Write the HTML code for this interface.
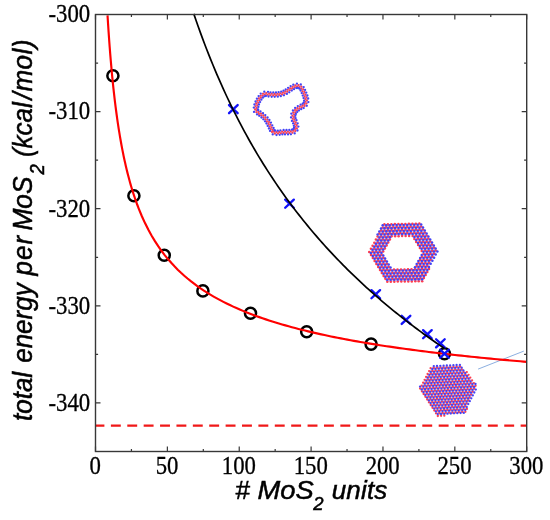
<!DOCTYPE html>
<html><head><meta charset="utf-8"><title>total energy per MoS2</title>
<style>html,body{margin:0;padding:0;background:#fff}svg{display:block}</style></head><body>
<svg width="550" height="520" viewBox="0 0 550 520">
<rect width="550" height="520" fill="#fff"/>
<polygon fill="#d6c3e6" points="419.8,389.2 432.3,366.6 460.5,365.2 476.1,386.4 464.1,412.5 437.9,415.4"/>
<g fill="#ff3d4e"><circle cx="430.6" cy="368.2" r="1.15"/><circle cx="433.8" cy="368.0" r="1.15"/><circle cx="437.1" cy="367.8" r="1.15"/><circle cx="440.4" cy="367.7" r="1.15"/><circle cx="443.6" cy="367.5" r="1.15"/><circle cx="446.9" cy="367.4" r="1.15"/><circle cx="450.2" cy="367.2" r="1.15"/><circle cx="453.4" cy="367.1" r="1.15"/><circle cx="456.7" cy="366.9" r="1.15"/><circle cx="460.0" cy="366.7" r="1.15"/><circle cx="429.1" cy="371.1" r="1.15"/><circle cx="432.4" cy="370.9" r="1.15"/><circle cx="435.6" cy="370.7" r="1.15"/><circle cx="438.9" cy="370.6" r="1.15"/><circle cx="442.1" cy="370.4" r="1.15"/><circle cx="445.4" cy="370.3" r="1.15"/><circle cx="448.7" cy="370.1" r="1.15"/><circle cx="451.9" cy="370.0" r="1.15"/><circle cx="455.2" cy="369.8" r="1.15"/><circle cx="458.5" cy="369.7" r="1.15"/><circle cx="461.7" cy="369.5" r="1.15"/><circle cx="427.6" cy="374.0" r="1.15"/><circle cx="430.9" cy="373.8" r="1.15"/><circle cx="434.1" cy="373.7" r="1.15"/><circle cx="437.4" cy="373.5" r="1.15"/><circle cx="440.7" cy="373.3" r="1.15"/><circle cx="443.9" cy="373.2" r="1.15"/><circle cx="447.2" cy="373.0" r="1.15"/><circle cx="450.5" cy="372.9" r="1.15"/><circle cx="453.7" cy="372.7" r="1.15"/><circle cx="457.0" cy="372.6" r="1.15"/><circle cx="460.2" cy="372.4" r="1.15"/><circle cx="463.5" cy="372.2" r="1.15"/><circle cx="466.8" cy="372.1" r="1.15"/><circle cx="426.1" cy="376.9" r="1.15"/><circle cx="429.4" cy="376.7" r="1.15"/><circle cx="432.6" cy="376.6" r="1.15"/><circle cx="435.9" cy="376.4" r="1.15"/><circle cx="439.2" cy="376.2" r="1.15"/><circle cx="442.4" cy="376.1" r="1.15"/><circle cx="445.7" cy="375.9" r="1.15"/><circle cx="449.0" cy="375.8" r="1.15"/><circle cx="452.2" cy="375.6" r="1.15"/><circle cx="455.5" cy="375.5" r="1.15"/><circle cx="458.8" cy="375.3" r="1.15"/><circle cx="462.0" cy="375.2" r="1.15"/><circle cx="465.3" cy="375.0" r="1.15"/><circle cx="468.6" cy="374.8" r="1.15"/><circle cx="424.6" cy="379.8" r="1.15"/><circle cx="427.9" cy="379.6" r="1.15"/><circle cx="431.1" cy="379.5" r="1.15"/><circle cx="434.4" cy="379.3" r="1.15"/><circle cx="437.7" cy="379.2" r="1.15"/><circle cx="440.9" cy="379.0" r="1.15"/><circle cx="444.2" cy="378.8" r="1.15"/><circle cx="447.5" cy="378.7" r="1.15"/><circle cx="450.7" cy="378.5" r="1.15"/><circle cx="454.0" cy="378.4" r="1.15"/><circle cx="457.3" cy="378.2" r="1.15"/><circle cx="460.5" cy="378.1" r="1.15"/><circle cx="463.8" cy="377.9" r="1.15"/><circle cx="467.1" cy="377.7" r="1.15"/><circle cx="470.3" cy="377.6" r="1.15"/><circle cx="423.1" cy="382.7" r="1.15"/><circle cx="426.4" cy="382.5" r="1.15"/><circle cx="429.6" cy="382.4" r="1.15"/><circle cx="432.9" cy="382.2" r="1.15"/><circle cx="436.2" cy="382.1" r="1.15"/><circle cx="439.4" cy="381.9" r="1.15"/><circle cx="442.7" cy="381.7" r="1.15"/><circle cx="446.0" cy="381.6" r="1.15"/><circle cx="449.2" cy="381.4" r="1.15"/><circle cx="452.5" cy="381.3" r="1.15"/><circle cx="455.8" cy="381.1" r="1.15"/><circle cx="459.0" cy="381.0" r="1.15"/><circle cx="462.3" cy="380.8" r="1.15"/><circle cx="465.6" cy="380.7" r="1.15"/><circle cx="468.8" cy="380.5" r="1.15"/><circle cx="472.1" cy="380.3" r="1.15"/><circle cx="421.6" cy="385.6" r="1.15"/><circle cx="424.9" cy="385.4" r="1.15"/><circle cx="428.1" cy="385.3" r="1.15"/><circle cx="431.4" cy="385.1" r="1.15"/><circle cx="434.7" cy="385.0" r="1.15"/><circle cx="437.9" cy="384.8" r="1.15"/><circle cx="441.2" cy="384.7" r="1.15"/><circle cx="444.5" cy="384.5" r="1.15"/><circle cx="447.7" cy="384.3" r="1.15"/><circle cx="451.0" cy="384.2" r="1.15"/><circle cx="454.3" cy="384.0" r="1.15"/><circle cx="457.5" cy="383.9" r="1.15"/><circle cx="460.8" cy="383.7" r="1.15"/><circle cx="464.1" cy="383.6" r="1.15"/><circle cx="467.3" cy="383.4" r="1.15"/><circle cx="470.6" cy="383.2" r="1.15"/><circle cx="473.9" cy="383.1" r="1.15"/><circle cx="420.1" cy="388.5" r="1.15"/><circle cx="423.4" cy="388.3" r="1.15"/><circle cx="426.6" cy="388.2" r="1.15"/><circle cx="429.9" cy="388.0" r="1.15"/><circle cx="433.2" cy="387.9" r="1.15"/><circle cx="436.4" cy="387.7" r="1.15"/><circle cx="439.7" cy="387.6" r="1.15"/><circle cx="443.0" cy="387.4" r="1.15"/><circle cx="446.2" cy="387.2" r="1.15"/><circle cx="449.5" cy="387.1" r="1.15"/><circle cx="452.8" cy="386.9" r="1.15"/><circle cx="456.0" cy="386.8" r="1.15"/><circle cx="459.3" cy="386.6" r="1.15"/><circle cx="462.6" cy="386.5" r="1.15"/><circle cx="465.8" cy="386.3" r="1.15"/><circle cx="469.1" cy="386.2" r="1.15"/><circle cx="472.4" cy="386.0" r="1.15"/><circle cx="475.6" cy="385.8" r="1.15"/><circle cx="421.9" cy="391.3" r="1.15"/><circle cx="425.1" cy="391.1" r="1.15"/><circle cx="428.4" cy="390.9" r="1.15"/><circle cx="431.7" cy="390.8" r="1.15"/><circle cx="434.9" cy="390.6" r="1.15"/><circle cx="438.2" cy="390.5" r="1.15"/><circle cx="441.5" cy="390.3" r="1.15"/><circle cx="444.7" cy="390.2" r="1.15"/><circle cx="448.0" cy="390.0" r="1.15"/><circle cx="451.3" cy="389.8" r="1.15"/><circle cx="454.5" cy="389.7" r="1.15"/><circle cx="457.8" cy="389.5" r="1.15"/><circle cx="461.1" cy="389.4" r="1.15"/><circle cx="464.3" cy="389.2" r="1.15"/><circle cx="467.6" cy="389.1" r="1.15"/><circle cx="470.9" cy="388.9" r="1.15"/><circle cx="474.1" cy="388.7" r="1.15"/><circle cx="423.6" cy="394.0" r="1.15"/><circle cx="426.9" cy="393.8" r="1.15"/><circle cx="430.2" cy="393.7" r="1.15"/><circle cx="433.4" cy="393.5" r="1.15"/><circle cx="436.7" cy="393.4" r="1.15"/><circle cx="440.0" cy="393.2" r="1.15"/><circle cx="443.2" cy="393.1" r="1.15"/><circle cx="446.5" cy="392.9" r="1.15"/><circle cx="449.8" cy="392.8" r="1.15"/><circle cx="453.0" cy="392.6" r="1.15"/><circle cx="456.3" cy="392.4" r="1.15"/><circle cx="459.6" cy="392.3" r="1.15"/><circle cx="462.8" cy="392.1" r="1.15"/><circle cx="466.1" cy="392.0" r="1.15"/><circle cx="469.4" cy="391.8" r="1.15"/><circle cx="472.6" cy="391.7" r="1.15"/><circle cx="425.4" cy="396.8" r="1.15"/><circle cx="428.7" cy="396.6" r="1.15"/><circle cx="431.9" cy="396.4" r="1.15"/><circle cx="435.2" cy="396.3" r="1.15"/><circle cx="438.5" cy="396.1" r="1.15"/><circle cx="441.7" cy="396.0" r="1.15"/><circle cx="445.0" cy="395.8" r="1.15"/><circle cx="448.3" cy="395.7" r="1.15"/><circle cx="451.5" cy="395.5" r="1.15"/><circle cx="454.8" cy="395.3" r="1.15"/><circle cx="458.1" cy="395.2" r="1.15"/><circle cx="461.3" cy="395.0" r="1.15"/><circle cx="464.6" cy="394.9" r="1.15"/><circle cx="467.9" cy="394.7" r="1.15"/><circle cx="471.1" cy="394.6" r="1.15"/><circle cx="427.2" cy="399.5" r="1.15"/><circle cx="430.4" cy="399.3" r="1.15"/><circle cx="433.7" cy="399.2" r="1.15"/><circle cx="437.0" cy="399.0" r="1.15"/><circle cx="440.2" cy="398.9" r="1.15"/><circle cx="443.5" cy="398.7" r="1.15"/><circle cx="446.8" cy="398.6" r="1.15"/><circle cx="450.0" cy="398.4" r="1.15"/><circle cx="453.3" cy="398.3" r="1.15"/><circle cx="456.6" cy="398.1" r="1.15"/><circle cx="459.8" cy="397.9" r="1.15"/><circle cx="463.1" cy="397.8" r="1.15"/><circle cx="466.4" cy="397.6" r="1.15"/><circle cx="469.6" cy="397.5" r="1.15"/><circle cx="428.9" cy="402.3" r="1.15"/><circle cx="432.2" cy="402.1" r="1.15"/><circle cx="435.5" cy="401.9" r="1.15"/><circle cx="438.7" cy="401.8" r="1.15"/><circle cx="442.0" cy="401.6" r="1.15"/><circle cx="445.3" cy="401.5" r="1.15"/><circle cx="448.5" cy="401.3" r="1.15"/><circle cx="451.8" cy="401.2" r="1.15"/><circle cx="455.1" cy="401.0" r="1.15"/><circle cx="458.3" cy="400.8" r="1.15"/><circle cx="461.6" cy="400.7" r="1.15"/><circle cx="464.9" cy="400.5" r="1.15"/><circle cx="468.1" cy="400.4" r="1.15"/><circle cx="430.7" cy="405.0" r="1.15"/><circle cx="434.0" cy="404.8" r="1.15"/><circle cx="437.2" cy="404.7" r="1.15"/><circle cx="440.5" cy="404.5" r="1.15"/><circle cx="443.8" cy="404.4" r="1.15"/><circle cx="447.0" cy="404.2" r="1.15"/><circle cx="450.3" cy="404.1" r="1.15"/><circle cx="453.6" cy="403.9" r="1.15"/><circle cx="456.8" cy="403.8" r="1.15"/><circle cx="460.1" cy="403.6" r="1.15"/><circle cx="463.4" cy="403.4" r="1.15"/><circle cx="466.6" cy="403.3" r="1.15"/><circle cx="432.5" cy="407.8" r="1.15"/><circle cx="435.8" cy="407.6" r="1.15"/><circle cx="439.0" cy="407.4" r="1.15"/><circle cx="442.3" cy="407.3" r="1.15"/><circle cx="445.5" cy="407.1" r="1.15"/><circle cx="448.8" cy="407.0" r="1.15"/><circle cx="452.1" cy="406.8" r="1.15"/><circle cx="455.3" cy="406.7" r="1.15"/><circle cx="458.6" cy="406.5" r="1.15"/><circle cx="461.9" cy="406.3" r="1.15"/><circle cx="465.1" cy="406.2" r="1.15"/><circle cx="434.3" cy="410.5" r="1.15"/><circle cx="437.5" cy="410.3" r="1.15"/><circle cx="440.8" cy="410.2" r="1.15"/><circle cx="444.1" cy="410.0" r="1.15"/><circle cx="447.3" cy="409.9" r="1.15"/><circle cx="450.6" cy="409.7" r="1.15"/><circle cx="453.9" cy="409.6" r="1.15"/><circle cx="457.1" cy="409.4" r="1.15"/><circle cx="460.4" cy="409.3" r="1.15"/><circle cx="463.6" cy="409.1" r="1.15"/><circle cx="466.9" cy="408.9" r="1.15"/><circle cx="436.0" cy="413.3" r="1.15"/><circle cx="439.3" cy="413.1" r="1.15"/><circle cx="442.6" cy="412.9" r="1.15"/><circle cx="445.8" cy="412.8" r="1.15"/><circle cx="449.1" cy="412.6" r="1.15"/><circle cx="452.4" cy="412.5" r="1.15"/><circle cx="455.6" cy="412.3" r="1.15"/><circle cx="458.9" cy="412.2" r="1.15"/><circle cx="462.2" cy="412.0" r="1.15"/><circle cx="465.4" cy="411.8" r="1.15"/><circle cx="437.8" cy="416.0" r="1.15"/><circle cx="441.1" cy="415.8" r="1.15"/><circle cx="444.3" cy="415.7" r="1.15"/></g><g fill="#4242f6"><circle cx="433.8" cy="366.1" r="1.15"/><circle cx="437.0" cy="366.0" r="1.15"/><circle cx="440.3" cy="365.8" r="1.15"/><circle cx="443.6" cy="365.6" r="1.15"/><circle cx="446.8" cy="365.5" r="1.15"/><circle cx="450.1" cy="365.3" r="1.15"/><circle cx="453.4" cy="365.2" r="1.15"/><circle cx="456.6" cy="365.0" r="1.15"/><circle cx="459.9" cy="364.9" r="1.15"/><circle cx="432.3" cy="369.0" r="1.15"/><circle cx="435.5" cy="368.9" r="1.15"/><circle cx="438.8" cy="368.7" r="1.15"/><circle cx="442.1" cy="368.5" r="1.15"/><circle cx="445.3" cy="368.4" r="1.15"/><circle cx="448.6" cy="368.2" r="1.15"/><circle cx="451.9" cy="368.1" r="1.15"/><circle cx="455.1" cy="367.9" r="1.15"/><circle cx="458.4" cy="367.8" r="1.15"/><circle cx="461.7" cy="367.6" r="1.15"/><circle cx="430.8" cy="371.9" r="1.15"/><circle cx="434.0" cy="371.8" r="1.15"/><circle cx="437.3" cy="371.6" r="1.15"/><circle cx="440.6" cy="371.5" r="1.15"/><circle cx="443.8" cy="371.3" r="1.15"/><circle cx="447.1" cy="371.1" r="1.15"/><circle cx="450.4" cy="371.0" r="1.15"/><circle cx="453.6" cy="370.8" r="1.15"/><circle cx="456.9" cy="370.7" r="1.15"/><circle cx="460.2" cy="370.5" r="1.15"/><circle cx="463.4" cy="370.4" r="1.15"/><circle cx="429.3" cy="374.8" r="1.15"/><circle cx="432.5" cy="374.7" r="1.15"/><circle cx="435.8" cy="374.5" r="1.15"/><circle cx="439.1" cy="374.4" r="1.15"/><circle cx="442.3" cy="374.2" r="1.15"/><circle cx="445.6" cy="374.0" r="1.15"/><circle cx="448.9" cy="373.9" r="1.15"/><circle cx="452.1" cy="373.7" r="1.15"/><circle cx="455.4" cy="373.6" r="1.15"/><circle cx="458.7" cy="373.4" r="1.15"/><circle cx="461.9" cy="373.3" r="1.15"/><circle cx="465.2" cy="373.1" r="1.15"/><circle cx="427.8" cy="377.7" r="1.15"/><circle cx="431.0" cy="377.6" r="1.15"/><circle cx="434.3" cy="377.4" r="1.15"/><circle cx="437.6" cy="377.3" r="1.15"/><circle cx="440.8" cy="377.1" r="1.15"/><circle cx="444.1" cy="377.0" r="1.15"/><circle cx="447.4" cy="376.8" r="1.15"/><circle cx="450.6" cy="376.6" r="1.15"/><circle cx="453.9" cy="376.5" r="1.15"/><circle cx="457.2" cy="376.3" r="1.15"/><circle cx="460.4" cy="376.2" r="1.15"/><circle cx="463.7" cy="376.0" r="1.15"/><circle cx="467.0" cy="375.9" r="1.15"/><circle cx="426.3" cy="380.6" r="1.15"/><circle cx="429.5" cy="380.5" r="1.15"/><circle cx="432.8" cy="380.3" r="1.15"/><circle cx="436.1" cy="380.2" r="1.15"/><circle cx="439.3" cy="380.0" r="1.15"/><circle cx="442.6" cy="379.9" r="1.15"/><circle cx="445.9" cy="379.7" r="1.15"/><circle cx="449.1" cy="379.5" r="1.15"/><circle cx="452.4" cy="379.4" r="1.15"/><circle cx="455.7" cy="379.2" r="1.15"/><circle cx="458.9" cy="379.1" r="1.15"/><circle cx="462.2" cy="378.9" r="1.15"/><circle cx="465.5" cy="378.8" r="1.15"/><circle cx="468.7" cy="378.6" r="1.15"/><circle cx="424.8" cy="383.6" r="1.15"/><circle cx="428.0" cy="383.4" r="1.15"/><circle cx="431.3" cy="383.2" r="1.15"/><circle cx="434.6" cy="383.1" r="1.15"/><circle cx="437.8" cy="382.9" r="1.15"/><circle cx="441.1" cy="382.8" r="1.15"/><circle cx="444.4" cy="382.6" r="1.15"/><circle cx="447.6" cy="382.5" r="1.15"/><circle cx="450.9" cy="382.3" r="1.15"/><circle cx="454.2" cy="382.1" r="1.15"/><circle cx="457.4" cy="382.0" r="1.15"/><circle cx="460.7" cy="381.8" r="1.15"/><circle cx="464.0" cy="381.7" r="1.15"/><circle cx="467.2" cy="381.5" r="1.15"/><circle cx="470.5" cy="381.4" r="1.15"/><circle cx="420.0" cy="386.6" r="1.15"/><circle cx="423.3" cy="386.5" r="1.15"/><circle cx="426.5" cy="386.3" r="1.15"/><circle cx="429.8" cy="386.1" r="1.15"/><circle cx="433.1" cy="386.0" r="1.15"/><circle cx="436.3" cy="385.8" r="1.15"/><circle cx="439.6" cy="385.7" r="1.15"/><circle cx="442.9" cy="385.5" r="1.15"/><circle cx="446.1" cy="385.4" r="1.15"/><circle cx="449.4" cy="385.2" r="1.15"/><circle cx="452.7" cy="385.1" r="1.15"/><circle cx="455.9" cy="384.9" r="1.15"/><circle cx="459.2" cy="384.7" r="1.15"/><circle cx="462.5" cy="384.6" r="1.15"/><circle cx="465.7" cy="384.4" r="1.15"/><circle cx="469.0" cy="384.3" r="1.15"/><circle cx="472.3" cy="384.1" r="1.15"/><circle cx="475.5" cy="384.0" r="1.15"/><circle cx="421.8" cy="389.4" r="1.15"/><circle cx="425.0" cy="389.2" r="1.15"/><circle cx="428.3" cy="389.1" r="1.15"/><circle cx="431.6" cy="388.9" r="1.15"/><circle cx="434.8" cy="388.7" r="1.15"/><circle cx="438.1" cy="388.6" r="1.15"/><circle cx="441.4" cy="388.4" r="1.15"/><circle cx="444.6" cy="388.3" r="1.15"/><circle cx="447.9" cy="388.1" r="1.15"/><circle cx="451.2" cy="388.0" r="1.15"/><circle cx="454.4" cy="387.8" r="1.15"/><circle cx="457.7" cy="387.6" r="1.15"/><circle cx="461.0" cy="387.5" r="1.15"/><circle cx="464.2" cy="387.3" r="1.15"/><circle cx="467.5" cy="387.2" r="1.15"/><circle cx="470.8" cy="387.0" r="1.15"/><circle cx="474.0" cy="386.9" r="1.15"/><circle cx="423.5" cy="392.1" r="1.15"/><circle cx="426.8" cy="392.0" r="1.15"/><circle cx="430.1" cy="391.8" r="1.15"/><circle cx="433.3" cy="391.6" r="1.15"/><circle cx="436.6" cy="391.5" r="1.15"/><circle cx="439.9" cy="391.3" r="1.15"/><circle cx="443.1" cy="391.2" r="1.15"/><circle cx="446.4" cy="391.0" r="1.15"/><circle cx="449.7" cy="390.9" r="1.15"/><circle cx="452.9" cy="390.7" r="1.15"/><circle cx="456.2" cy="390.6" r="1.15"/><circle cx="459.5" cy="390.4" r="1.15"/><circle cx="462.7" cy="390.2" r="1.15"/><circle cx="466.0" cy="390.1" r="1.15"/><circle cx="469.3" cy="389.9" r="1.15"/><circle cx="472.5" cy="389.8" r="1.15"/><circle cx="475.8" cy="389.6" r="1.15"/><circle cx="425.3" cy="394.9" r="1.15"/><circle cx="428.6" cy="394.7" r="1.15"/><circle cx="431.8" cy="394.6" r="1.15"/><circle cx="435.1" cy="394.4" r="1.15"/><circle cx="438.4" cy="394.2" r="1.15"/><circle cx="441.6" cy="394.1" r="1.15"/><circle cx="444.9" cy="393.9" r="1.15"/><circle cx="448.2" cy="393.8" r="1.15"/><circle cx="451.4" cy="393.6" r="1.15"/><circle cx="454.7" cy="393.5" r="1.15"/><circle cx="458.0" cy="393.3" r="1.15"/><circle cx="461.2" cy="393.1" r="1.15"/><circle cx="464.5" cy="393.0" r="1.15"/><circle cx="467.8" cy="392.8" r="1.15"/><circle cx="471.0" cy="392.7" r="1.15"/><circle cx="474.3" cy="392.5" r="1.15"/><circle cx="427.1" cy="397.6" r="1.15"/><circle cx="430.4" cy="397.5" r="1.15"/><circle cx="433.6" cy="397.3" r="1.15"/><circle cx="436.9" cy="397.1" r="1.15"/><circle cx="440.2" cy="397.0" r="1.15"/><circle cx="443.4" cy="396.8" r="1.15"/><circle cx="446.7" cy="396.7" r="1.15"/><circle cx="450.0" cy="396.5" r="1.15"/><circle cx="453.2" cy="396.4" r="1.15"/><circle cx="456.5" cy="396.2" r="1.15"/><circle cx="459.7" cy="396.1" r="1.15"/><circle cx="463.0" cy="395.9" r="1.15"/><circle cx="466.3" cy="395.7" r="1.15"/><circle cx="469.5" cy="395.6" r="1.15"/><circle cx="472.8" cy="395.4" r="1.15"/><circle cx="428.9" cy="400.4" r="1.15"/><circle cx="432.1" cy="400.2" r="1.15"/><circle cx="435.4" cy="400.1" r="1.15"/><circle cx="438.7" cy="399.9" r="1.15"/><circle cx="441.9" cy="399.7" r="1.15"/><circle cx="445.2" cy="399.6" r="1.15"/><circle cx="448.5" cy="399.4" r="1.15"/><circle cx="451.7" cy="399.3" r="1.15"/><circle cx="455.0" cy="399.1" r="1.15"/><circle cx="458.3" cy="399.0" r="1.15"/><circle cx="461.5" cy="398.8" r="1.15"/><circle cx="464.8" cy="398.6" r="1.15"/><circle cx="468.1" cy="398.5" r="1.15"/><circle cx="471.3" cy="398.3" r="1.15"/><circle cx="430.6" cy="403.1" r="1.15"/><circle cx="433.9" cy="403.0" r="1.15"/><circle cx="437.2" cy="402.8" r="1.15"/><circle cx="440.4" cy="402.6" r="1.15"/><circle cx="443.7" cy="402.5" r="1.15"/><circle cx="447.0" cy="402.3" r="1.15"/><circle cx="450.2" cy="402.2" r="1.15"/><circle cx="453.5" cy="402.0" r="1.15"/><circle cx="456.8" cy="401.9" r="1.15"/><circle cx="460.0" cy="401.7" r="1.15"/><circle cx="463.3" cy="401.6" r="1.15"/><circle cx="466.6" cy="401.4" r="1.15"/><circle cx="469.8" cy="401.2" r="1.15"/><circle cx="432.4" cy="405.9" r="1.15"/><circle cx="435.7" cy="405.7" r="1.15"/><circle cx="438.9" cy="405.6" r="1.15"/><circle cx="442.2" cy="405.4" r="1.15"/><circle cx="445.5" cy="405.2" r="1.15"/><circle cx="448.7" cy="405.1" r="1.15"/><circle cx="452.0" cy="404.9" r="1.15"/><circle cx="455.3" cy="404.8" r="1.15"/><circle cx="458.5" cy="404.6" r="1.15"/><circle cx="461.8" cy="404.5" r="1.15"/><circle cx="465.1" cy="404.3" r="1.15"/><circle cx="468.3" cy="404.1" r="1.15"/><circle cx="434.2" cy="408.6" r="1.15"/><circle cx="437.4" cy="408.5" r="1.15"/><circle cx="440.7" cy="408.3" r="1.15"/><circle cx="444.0" cy="408.2" r="1.15"/><circle cx="447.2" cy="408.0" r="1.15"/><circle cx="450.5" cy="407.8" r="1.15"/><circle cx="453.8" cy="407.7" r="1.15"/><circle cx="457.0" cy="407.5" r="1.15"/><circle cx="460.3" cy="407.4" r="1.15"/><circle cx="463.6" cy="407.2" r="1.15"/><circle cx="466.8" cy="407.1" r="1.15"/><circle cx="435.9" cy="411.4" r="1.15"/><circle cx="439.2" cy="411.2" r="1.15"/><circle cx="442.5" cy="411.1" r="1.15"/><circle cx="445.7" cy="410.9" r="1.15"/><circle cx="449.0" cy="410.7" r="1.15"/><circle cx="452.3" cy="410.6" r="1.15"/><circle cx="455.5" cy="410.4" r="1.15"/><circle cx="458.8" cy="410.3" r="1.15"/><circle cx="462.1" cy="410.1" r="1.15"/><circle cx="465.3" cy="410.0" r="1.15"/><circle cx="437.7" cy="414.1" r="1.15"/><circle cx="441.0" cy="414.0" r="1.15"/><circle cx="444.2" cy="413.8" r="1.15"/><circle cx="447.5" cy="413.7" r="1.15"/><circle cx="450.8" cy="413.5" r="1.15"/><circle cx="454.0" cy="413.3" r="1.15"/><circle cx="457.3" cy="413.2" r="1.15"/><circle cx="460.6" cy="413.0" r="1.15"/><circle cx="463.8" cy="412.9" r="1.15"/></g>
<path fill-rule="evenodd" fill="#d6c3e6" d="M369.60,253.09 L384.13,224.20 L419.21,223.52 L436.30,251.42 L422.06,280.70 L386.30,281.68 Z M382.60,253.12 L392.68,235.77 L413.51,235.07 L423.60,252.06 L414.26,270.11 L391.13,270.50 Z"/>
<g fill="#ff3d4e"><circle cx="384.4" cy="224.3" r="1.25"/><circle cx="387.9" cy="224.2" r="1.25"/><circle cx="391.4" cy="224.2" r="1.25"/><circle cx="394.9" cy="224.1" r="1.25"/><circle cx="398.4" cy="224.0" r="1.25"/><circle cx="401.9" cy="224.0" r="1.25"/><circle cx="405.4" cy="223.9" r="1.25"/><circle cx="408.9" cy="223.8" r="1.25"/><circle cx="412.4" cy="223.8" r="1.25"/><circle cx="415.9" cy="223.7" r="1.25"/><circle cx="419.4" cy="223.6" r="1.25"/><circle cx="382.7" cy="227.4" r="1.25"/><circle cx="386.2" cy="227.3" r="1.25"/><circle cx="389.7" cy="227.2" r="1.25"/><circle cx="393.2" cy="227.2" r="1.25"/><circle cx="396.7" cy="227.1" r="1.25"/><circle cx="400.2" cy="227.0" r="1.25"/><circle cx="403.7" cy="227.0" r="1.25"/><circle cx="407.2" cy="226.9" r="1.25"/><circle cx="410.7" cy="226.8" r="1.25"/><circle cx="414.2" cy="226.8" r="1.25"/><circle cx="417.7" cy="226.7" r="1.25"/><circle cx="421.2" cy="226.6" r="1.25"/><circle cx="381.0" cy="230.4" r="1.25"/><circle cx="384.5" cy="230.4" r="1.25"/><circle cx="388.0" cy="230.3" r="1.25"/><circle cx="391.5" cy="230.2" r="1.25"/><circle cx="395.0" cy="230.2" r="1.25"/><circle cx="398.5" cy="230.1" r="1.25"/><circle cx="402.0" cy="230.0" r="1.25"/><circle cx="405.5" cy="230.0" r="1.25"/><circle cx="409.0" cy="229.9" r="1.25"/><circle cx="412.5" cy="229.8" r="1.25"/><circle cx="416.0" cy="229.8" r="1.25"/><circle cx="419.5" cy="229.7" r="1.25"/><circle cx="423.0" cy="229.6" r="1.25"/><circle cx="379.3" cy="233.5" r="1.25"/><circle cx="382.8" cy="233.4" r="1.25"/><circle cx="386.3" cy="233.4" r="1.25"/><circle cx="389.8" cy="233.3" r="1.25"/><circle cx="393.3" cy="233.2" r="1.25"/><circle cx="396.8" cy="233.2" r="1.25"/><circle cx="400.3" cy="233.1" r="1.25"/><circle cx="403.8" cy="233.0" r="1.25"/><circle cx="407.3" cy="233.0" r="1.25"/><circle cx="410.8" cy="232.9" r="1.25"/><circle cx="414.3" cy="232.8" r="1.25"/><circle cx="417.8" cy="232.8" r="1.25"/><circle cx="421.3" cy="232.7" r="1.25"/><circle cx="424.8" cy="232.6" r="1.25"/><circle cx="377.6" cy="236.6" r="1.25"/><circle cx="381.1" cy="236.5" r="1.25"/><circle cx="384.6" cy="236.4" r="1.25"/><circle cx="388.1" cy="236.4" r="1.25"/><circle cx="391.6" cy="236.3" r="1.25"/><circle cx="395.1" cy="236.2" r="1.25"/><circle cx="398.6" cy="236.2" r="1.25"/><circle cx="402.1" cy="236.1" r="1.25"/><circle cx="405.6" cy="236.0" r="1.25"/><circle cx="409.1" cy="236.0" r="1.25"/><circle cx="412.6" cy="235.9" r="1.25"/><circle cx="416.1" cy="235.8" r="1.25"/><circle cx="419.6" cy="235.8" r="1.25"/><circle cx="423.1" cy="235.7" r="1.25"/><circle cx="426.6" cy="235.6" r="1.25"/><circle cx="375.9" cy="239.6" r="1.25"/><circle cx="379.4" cy="239.6" r="1.25"/><circle cx="382.9" cy="239.5" r="1.25"/><circle cx="386.4" cy="239.4" r="1.25"/><circle cx="389.9" cy="239.4" r="1.25"/><circle cx="414.4" cy="238.9" r="1.25"/><circle cx="417.9" cy="238.8" r="1.25"/><circle cx="421.4" cy="238.7" r="1.25"/><circle cx="424.9" cy="238.7" r="1.25"/><circle cx="428.4" cy="238.6" r="1.25"/><circle cx="374.3" cy="242.7" r="1.25"/><circle cx="377.8" cy="242.6" r="1.25"/><circle cx="381.2" cy="242.6" r="1.25"/><circle cx="384.7" cy="242.5" r="1.25"/><circle cx="388.2" cy="242.4" r="1.25"/><circle cx="416.2" cy="241.9" r="1.25"/><circle cx="419.7" cy="241.8" r="1.25"/><circle cx="423.2" cy="241.7" r="1.25"/><circle cx="426.7" cy="241.7" r="1.25"/><circle cx="430.2" cy="241.6" r="1.25"/><circle cx="372.6" cy="245.7" r="1.25"/><circle cx="376.1" cy="245.7" r="1.25"/><circle cx="379.6" cy="245.6" r="1.25"/><circle cx="383.1" cy="245.5" r="1.25"/><circle cx="386.6" cy="245.5" r="1.25"/><circle cx="418.1" cy="244.9" r="1.25"/><circle cx="421.6" cy="244.8" r="1.25"/><circle cx="425.0" cy="244.7" r="1.25"/><circle cx="428.5" cy="244.7" r="1.25"/><circle cx="432.0" cy="244.6" r="1.25"/><circle cx="370.9" cy="248.8" r="1.25"/><circle cx="374.4" cy="248.7" r="1.25"/><circle cx="377.9" cy="248.7" r="1.25"/><circle cx="381.4" cy="248.6" r="1.25"/><circle cx="384.9" cy="248.5" r="1.25"/><circle cx="419.9" cy="247.9" r="1.25"/><circle cx="423.4" cy="247.8" r="1.25"/><circle cx="426.9" cy="247.7" r="1.25"/><circle cx="430.4" cy="247.7" r="1.25"/><circle cx="433.9" cy="247.6" r="1.25"/><circle cx="369.2" cy="251.9" r="1.25"/><circle cx="372.7" cy="251.8" r="1.25"/><circle cx="376.2" cy="251.7" r="1.25"/><circle cx="379.7" cy="251.7" r="1.25"/><circle cx="383.2" cy="251.6" r="1.25"/><circle cx="421.7" cy="250.9" r="1.25"/><circle cx="425.2" cy="250.8" r="1.25"/><circle cx="428.7" cy="250.7" r="1.25"/><circle cx="432.2" cy="250.7" r="1.25"/><circle cx="435.7" cy="250.6" r="1.25"/><circle cx="371.0" cy="254.9" r="1.25"/><circle cx="374.5" cy="254.8" r="1.25"/><circle cx="378.0" cy="254.7" r="1.25"/><circle cx="381.5" cy="254.7" r="1.25"/><circle cx="423.5" cy="253.9" r="1.25"/><circle cx="427.0" cy="253.8" r="1.25"/><circle cx="430.5" cy="253.7" r="1.25"/><circle cx="434.0" cy="253.7" r="1.25"/><circle cx="372.8" cy="257.9" r="1.25"/><circle cx="376.3" cy="257.8" r="1.25"/><circle cx="379.8" cy="257.7" r="1.25"/><circle cx="383.3" cy="257.7" r="1.25"/><circle cx="421.8" cy="256.9" r="1.25"/><circle cx="425.3" cy="256.9" r="1.25"/><circle cx="428.8" cy="256.8" r="1.25"/><circle cx="432.3" cy="256.7" r="1.25"/><circle cx="374.6" cy="260.9" r="1.25"/><circle cx="378.1" cy="260.8" r="1.25"/><circle cx="381.6" cy="260.7" r="1.25"/><circle cx="385.1" cy="260.7" r="1.25"/><circle cx="420.1" cy="260.0" r="1.25"/><circle cx="423.6" cy="259.9" r="1.25"/><circle cx="427.1" cy="259.9" r="1.25"/><circle cx="430.6" cy="259.8" r="1.25"/><circle cx="376.4" cy="263.9" r="1.25"/><circle cx="379.9" cy="263.8" r="1.25"/><circle cx="383.4" cy="263.7" r="1.25"/><circle cx="386.9" cy="263.7" r="1.25"/><circle cx="418.4" cy="263.1" r="1.25"/><circle cx="421.9" cy="263.0" r="1.25"/><circle cx="425.4" cy="262.9" r="1.25"/><circle cx="428.9" cy="262.9" r="1.25"/><circle cx="378.2" cy="266.9" r="1.25"/><circle cx="381.7" cy="266.8" r="1.25"/><circle cx="385.2" cy="266.7" r="1.25"/><circle cx="388.7" cy="266.7" r="1.25"/><circle cx="416.7" cy="266.1" r="1.25"/><circle cx="420.2" cy="266.1" r="1.25"/><circle cx="423.7" cy="266.0" r="1.25"/><circle cx="427.2" cy="265.9" r="1.25"/><circle cx="380.0" cy="269.9" r="1.25"/><circle cx="383.5" cy="269.8" r="1.25"/><circle cx="387.0" cy="269.7" r="1.25"/><circle cx="390.5" cy="269.7" r="1.25"/><circle cx="394.0" cy="269.6" r="1.25"/><circle cx="397.5" cy="269.5" r="1.25"/><circle cx="401.0" cy="269.5" r="1.25"/><circle cx="404.5" cy="269.4" r="1.25"/><circle cx="408.0" cy="269.3" r="1.25"/><circle cx="411.5" cy="269.3" r="1.25"/><circle cx="415.0" cy="269.2" r="1.25"/><circle cx="418.5" cy="269.1" r="1.25"/><circle cx="422.0" cy="269.1" r="1.25"/><circle cx="425.5" cy="269.0" r="1.25"/><circle cx="429.0" cy="268.9" r="1.25"/><circle cx="381.8" cy="272.9" r="1.25"/><circle cx="385.3" cy="272.8" r="1.25"/><circle cx="388.8" cy="272.7" r="1.25"/><circle cx="392.3" cy="272.7" r="1.25"/><circle cx="395.8" cy="272.6" r="1.25"/><circle cx="399.3" cy="272.5" r="1.25"/><circle cx="402.8" cy="272.5" r="1.25"/><circle cx="406.3" cy="272.4" r="1.25"/><circle cx="409.8" cy="272.3" r="1.25"/><circle cx="413.3" cy="272.3" r="1.25"/><circle cx="416.8" cy="272.2" r="1.25"/><circle cx="420.3" cy="272.1" r="1.25"/><circle cx="423.8" cy="272.0" r="1.25"/><circle cx="427.3" cy="272.0" r="1.25"/><circle cx="383.6" cy="275.9" r="1.25"/><circle cx="387.1" cy="275.8" r="1.25"/><circle cx="390.6" cy="275.7" r="1.25"/><circle cx="394.1" cy="275.7" r="1.25"/><circle cx="397.6" cy="275.6" r="1.25"/><circle cx="401.1" cy="275.5" r="1.25"/><circle cx="404.6" cy="275.4" r="1.25"/><circle cx="408.1" cy="275.4" r="1.25"/><circle cx="411.6" cy="275.3" r="1.25"/><circle cx="415.1" cy="275.2" r="1.25"/><circle cx="418.6" cy="275.2" r="1.25"/><circle cx="422.1" cy="275.1" r="1.25"/><circle cx="425.6" cy="275.0" r="1.25"/><circle cx="385.4" cy="278.8" r="1.25"/><circle cx="388.9" cy="278.8" r="1.25"/><circle cx="392.4" cy="278.7" r="1.25"/><circle cx="395.9" cy="278.6" r="1.25"/><circle cx="399.4" cy="278.6" r="1.25"/><circle cx="402.9" cy="278.5" r="1.25"/><circle cx="406.4" cy="278.4" r="1.25"/><circle cx="409.9" cy="278.4" r="1.25"/><circle cx="413.4" cy="278.3" r="1.25"/><circle cx="416.9" cy="278.2" r="1.25"/><circle cx="420.4" cy="278.2" r="1.25"/><circle cx="423.9" cy="278.1" r="1.25"/><circle cx="387.3" cy="281.8" r="1.25"/><circle cx="390.8" cy="281.8" r="1.25"/><circle cx="394.3" cy="281.7" r="1.25"/><circle cx="397.8" cy="281.6" r="1.25"/><circle cx="401.3" cy="281.6" r="1.25"/><circle cx="404.8" cy="281.5" r="1.25"/><circle cx="408.3" cy="281.4" r="1.25"/><circle cx="411.8" cy="281.4" r="1.25"/><circle cx="415.3" cy="281.3" r="1.25"/><circle cx="418.7" cy="281.2" r="1.25"/><circle cx="422.2" cy="281.2" r="1.25"/></g><g fill="#4242f6"><circle cx="382.7" cy="225.3" r="1.25"/><circle cx="386.2" cy="225.3" r="1.25"/><circle cx="389.7" cy="225.2" r="1.25"/><circle cx="393.2" cy="225.1" r="1.25"/><circle cx="396.7" cy="225.1" r="1.25"/><circle cx="400.2" cy="225.0" r="1.25"/><circle cx="403.7" cy="224.9" r="1.25"/><circle cx="407.2" cy="224.9" r="1.25"/><circle cx="410.7" cy="224.8" r="1.25"/><circle cx="414.2" cy="224.7" r="1.25"/><circle cx="417.7" cy="224.7" r="1.25"/><circle cx="421.2" cy="224.6" r="1.25"/><circle cx="381.0" cy="228.4" r="1.25"/><circle cx="384.5" cy="228.3" r="1.25"/><circle cx="388.0" cy="228.3" r="1.25"/><circle cx="391.5" cy="228.2" r="1.25"/><circle cx="395.0" cy="228.1" r="1.25"/><circle cx="398.5" cy="228.1" r="1.25"/><circle cx="402.0" cy="228.0" r="1.25"/><circle cx="405.5" cy="227.9" r="1.25"/><circle cx="409.0" cy="227.9" r="1.25"/><circle cx="412.5" cy="227.8" r="1.25"/><circle cx="416.0" cy="227.7" r="1.25"/><circle cx="419.5" cy="227.7" r="1.25"/><circle cx="423.0" cy="227.6" r="1.25"/><circle cx="379.3" cy="231.5" r="1.25"/><circle cx="382.8" cy="231.4" r="1.25"/><circle cx="386.3" cy="231.3" r="1.25"/><circle cx="389.8" cy="231.3" r="1.25"/><circle cx="393.3" cy="231.2" r="1.25"/><circle cx="396.8" cy="231.1" r="1.25"/><circle cx="400.3" cy="231.1" r="1.25"/><circle cx="403.8" cy="231.0" r="1.25"/><circle cx="407.3" cy="230.9" r="1.25"/><circle cx="410.8" cy="230.9" r="1.25"/><circle cx="414.3" cy="230.8" r="1.25"/><circle cx="417.8" cy="230.7" r="1.25"/><circle cx="421.3" cy="230.7" r="1.25"/><circle cx="424.8" cy="230.6" r="1.25"/><circle cx="377.6" cy="234.5" r="1.25"/><circle cx="381.1" cy="234.5" r="1.25"/><circle cx="384.6" cy="234.4" r="1.25"/><circle cx="388.1" cy="234.3" r="1.25"/><circle cx="391.6" cy="234.3" r="1.25"/><circle cx="395.1" cy="234.2" r="1.25"/><circle cx="398.6" cy="234.1" r="1.25"/><circle cx="402.1" cy="234.1" r="1.25"/><circle cx="405.6" cy="234.0" r="1.25"/><circle cx="409.1" cy="233.9" r="1.25"/><circle cx="412.6" cy="233.9" r="1.25"/><circle cx="416.1" cy="233.8" r="1.25"/><circle cx="419.6" cy="233.7" r="1.25"/><circle cx="423.1" cy="233.7" r="1.25"/><circle cx="426.6" cy="233.6" r="1.25"/><circle cx="379.4" cy="237.5" r="1.25"/><circle cx="382.9" cy="237.5" r="1.25"/><circle cx="386.4" cy="237.4" r="1.25"/><circle cx="389.9" cy="237.3" r="1.25"/><circle cx="414.4" cy="236.9" r="1.25"/><circle cx="417.9" cy="236.8" r="1.25"/><circle cx="421.4" cy="236.7" r="1.25"/><circle cx="424.9" cy="236.7" r="1.25"/><circle cx="428.4" cy="236.6" r="1.25"/><circle cx="377.7" cy="240.6" r="1.25"/><circle cx="381.2" cy="240.5" r="1.25"/><circle cx="384.7" cy="240.5" r="1.25"/><circle cx="388.2" cy="240.4" r="1.25"/><circle cx="416.2" cy="239.9" r="1.25"/><circle cx="419.7" cy="239.8" r="1.25"/><circle cx="423.2" cy="239.7" r="1.25"/><circle cx="426.7" cy="239.7" r="1.25"/><circle cx="430.2" cy="239.6" r="1.25"/><circle cx="376.0" cy="243.7" r="1.25"/><circle cx="379.5" cy="243.6" r="1.25"/><circle cx="383.0" cy="243.5" r="1.25"/><circle cx="386.5" cy="243.5" r="1.25"/><circle cx="418.0" cy="242.9" r="1.25"/><circle cx="421.5" cy="242.8" r="1.25"/><circle cx="425.0" cy="242.7" r="1.25"/><circle cx="428.5" cy="242.7" r="1.25"/><circle cx="432.0" cy="242.6" r="1.25"/><circle cx="374.3" cy="246.7" r="1.25"/><circle cx="377.8" cy="246.7" r="1.25"/><circle cx="381.3" cy="246.6" r="1.25"/><circle cx="384.8" cy="246.5" r="1.25"/><circle cx="419.8" cy="245.9" r="1.25"/><circle cx="423.3" cy="245.8" r="1.25"/><circle cx="426.8" cy="245.7" r="1.25"/><circle cx="430.3" cy="245.7" r="1.25"/><circle cx="433.8" cy="245.6" r="1.25"/><circle cx="372.6" cy="249.8" r="1.25"/><circle cx="376.1" cy="249.7" r="1.25"/><circle cx="379.6" cy="249.7" r="1.25"/><circle cx="383.1" cy="249.6" r="1.25"/><circle cx="421.6" cy="248.8" r="1.25"/><circle cx="425.1" cy="248.8" r="1.25"/><circle cx="428.6" cy="248.7" r="1.25"/><circle cx="432.1" cy="248.6" r="1.25"/><circle cx="435.6" cy="248.6" r="1.25"/><circle cx="370.9" cy="252.9" r="1.25"/><circle cx="374.4" cy="252.8" r="1.25"/><circle cx="377.9" cy="252.7" r="1.25"/><circle cx="381.4" cy="252.7" r="1.25"/><circle cx="423.4" cy="251.8" r="1.25"/><circle cx="426.9" cy="251.8" r="1.25"/><circle cx="430.4" cy="251.7" r="1.25"/><circle cx="433.9" cy="251.6" r="1.25"/><circle cx="437.4" cy="251.6" r="1.25"/><circle cx="372.8" cy="255.9" r="1.25"/><circle cx="376.3" cy="255.8" r="1.25"/><circle cx="379.8" cy="255.7" r="1.25"/><circle cx="383.3" cy="255.6" r="1.25"/><circle cx="421.7" cy="254.9" r="1.25"/><circle cx="425.2" cy="254.8" r="1.25"/><circle cx="428.7" cy="254.8" r="1.25"/><circle cx="432.2" cy="254.7" r="1.25"/><circle cx="435.7" cy="254.6" r="1.25"/><circle cx="374.6" cy="258.8" r="1.25"/><circle cx="378.1" cy="258.8" r="1.25"/><circle cx="381.6" cy="258.7" r="1.25"/><circle cx="385.1" cy="258.6" r="1.25"/><circle cx="420.1" cy="258.0" r="1.25"/><circle cx="423.6" cy="257.9" r="1.25"/><circle cx="427.1" cy="257.8" r="1.25"/><circle cx="430.6" cy="257.8" r="1.25"/><circle cx="434.1" cy="257.7" r="1.25"/><circle cx="376.4" cy="261.8" r="1.25"/><circle cx="379.9" cy="261.8" r="1.25"/><circle cx="383.4" cy="261.7" r="1.25"/><circle cx="386.9" cy="261.6" r="1.25"/><circle cx="418.4" cy="261.0" r="1.25"/><circle cx="421.9" cy="261.0" r="1.25"/><circle cx="425.4" cy="260.9" r="1.25"/><circle cx="428.9" cy="260.8" r="1.25"/><circle cx="432.4" cy="260.8" r="1.25"/><circle cx="378.2" cy="264.8" r="1.25"/><circle cx="381.7" cy="264.8" r="1.25"/><circle cx="385.2" cy="264.7" r="1.25"/><circle cx="388.7" cy="264.6" r="1.25"/><circle cx="416.7" cy="264.1" r="1.25"/><circle cx="420.2" cy="264.0" r="1.25"/><circle cx="423.7" cy="264.0" r="1.25"/><circle cx="427.2" cy="263.9" r="1.25"/><circle cx="430.7" cy="263.8" r="1.25"/><circle cx="380.0" cy="267.8" r="1.25"/><circle cx="383.5" cy="267.8" r="1.25"/><circle cx="387.0" cy="267.7" r="1.25"/><circle cx="390.5" cy="267.6" r="1.25"/><circle cx="415.0" cy="267.2" r="1.25"/><circle cx="418.5" cy="267.1" r="1.25"/><circle cx="422.0" cy="267.0" r="1.25"/><circle cx="425.5" cy="267.0" r="1.25"/><circle cx="429.0" cy="266.9" r="1.25"/><circle cx="381.8" cy="270.8" r="1.25"/><circle cx="385.3" cy="270.8" r="1.25"/><circle cx="388.8" cy="270.7" r="1.25"/><circle cx="392.3" cy="270.6" r="1.25"/><circle cx="395.8" cy="270.6" r="1.25"/><circle cx="399.3" cy="270.5" r="1.25"/><circle cx="402.8" cy="270.4" r="1.25"/><circle cx="406.3" cy="270.4" r="1.25"/><circle cx="409.8" cy="270.3" r="1.25"/><circle cx="413.3" cy="270.2" r="1.25"/><circle cx="416.8" cy="270.2" r="1.25"/><circle cx="420.3" cy="270.1" r="1.25"/><circle cx="423.8" cy="270.0" r="1.25"/><circle cx="427.3" cy="270.0" r="1.25"/><circle cx="383.6" cy="273.8" r="1.25"/><circle cx="387.1" cy="273.8" r="1.25"/><circle cx="390.6" cy="273.7" r="1.25"/><circle cx="394.1" cy="273.6" r="1.25"/><circle cx="397.6" cy="273.6" r="1.25"/><circle cx="401.1" cy="273.5" r="1.25"/><circle cx="404.6" cy="273.4" r="1.25"/><circle cx="408.1" cy="273.4" r="1.25"/><circle cx="411.6" cy="273.3" r="1.25"/><circle cx="415.1" cy="273.2" r="1.25"/><circle cx="418.6" cy="273.2" r="1.25"/><circle cx="422.1" cy="273.1" r="1.25"/><circle cx="425.6" cy="273.0" r="1.25"/><circle cx="385.4" cy="276.8" r="1.25"/><circle cx="388.9" cy="276.8" r="1.25"/><circle cx="392.4" cy="276.7" r="1.25"/><circle cx="395.9" cy="276.6" r="1.25"/><circle cx="399.4" cy="276.6" r="1.25"/><circle cx="402.9" cy="276.5" r="1.25"/><circle cx="406.4" cy="276.4" r="1.25"/><circle cx="409.9" cy="276.4" r="1.25"/><circle cx="413.4" cy="276.3" r="1.25"/><circle cx="416.9" cy="276.2" r="1.25"/><circle cx="420.4" cy="276.2" r="1.25"/><circle cx="423.9" cy="276.1" r="1.25"/><circle cx="387.2" cy="279.8" r="1.25"/><circle cx="390.7" cy="279.8" r="1.25"/><circle cx="394.2" cy="279.7" r="1.25"/><circle cx="397.7" cy="279.6" r="1.25"/><circle cx="401.2" cy="279.6" r="1.25"/><circle cx="404.7" cy="279.5" r="1.25"/><circle cx="408.2" cy="279.4" r="1.25"/><circle cx="411.7" cy="279.4" r="1.25"/><circle cx="415.2" cy="279.3" r="1.25"/><circle cx="418.7" cy="279.2" r="1.25"/><circle cx="422.2" cy="279.2" r="1.25"/></g>
<path fill="none" stroke="#d6c3e6" stroke-width="3.6" d="M255.77,109.32 L255.80,108.96 L255.85,108.54 L255.91,108.09 L255.99,107.60 L256.08,107.08 L256.19,106.54 L256.31,105.99 L256.44,105.43 L256.59,104.87 L256.75,104.32 L256.92,103.78 L257.11,103.26 L257.32,102.75 L257.55,102.22 L257.80,101.69 L258.06,101.15 L258.34,100.60 L258.63,100.07 L258.93,99.54 L259.23,99.03 L259.54,98.53 L259.85,98.06 L260.17,97.62 L260.48,97.21 L260.78,96.82 L261.09,96.44 L261.39,96.08 L261.70,95.74 L262.01,95.41 L262.33,95.10 L262.66,94.82 L263.00,94.57 L263.35,94.34 L263.72,94.14 L264.11,93.97 L264.52,93.84 L264.95,93.76 L265.40,93.73 L265.87,93.74 L266.36,93.79 L266.86,93.87 L267.38,93.97 L267.90,94.08 L268.43,94.19 L268.96,94.30 L269.50,94.40 L270.04,94.47 L270.57,94.52 L271.11,94.54 L271.66,94.57 L272.22,94.59 L272.79,94.62 L273.36,94.63 L273.94,94.64 L274.51,94.64 L275.08,94.64 L275.65,94.63 L276.21,94.60 L276.76,94.56 L277.30,94.52 L277.83,94.45 L278.37,94.38 L278.89,94.31 L279.42,94.22 L279.94,94.12 L280.46,94.01 L280.96,93.89 L281.46,93.77 L281.95,93.63 L282.43,93.49 L282.90,93.33 L283.36,93.17 L283.80,92.99 L284.23,92.80 L284.65,92.59 L285.05,92.37 L285.45,92.14 L285.84,91.91 L286.22,91.67 L286.60,91.42 L286.97,91.18 L287.34,90.94 L287.70,90.71 L288.07,90.48 L288.43,90.25 L288.77,90.02 L289.11,89.79 L289.44,89.56 L289.76,89.32 L290.09,89.09 L290.41,88.86 L290.74,88.63 L291.07,88.41 L291.40,88.20 L291.75,87.99 L292.11,87.79 L292.48,87.58 L292.86,87.37 L293.25,87.16 L293.65,86.94 L294.06,86.73 L294.46,86.52 L294.87,86.34 L295.27,86.17 L295.67,86.02 L296.06,85.90 L296.45,85.82 L296.82,85.77 L297.18,85.75 L297.54,85.76 L297.91,85.79 L298.26,85.84 L298.62,85.92 L298.96,86.02 L299.30,86.14 L299.63,86.29 L299.96,86.46 L300.27,86.66 L300.57,86.87 L300.85,87.11 L301.13,87.39 L301.39,87.70 L301.64,88.04 L301.88,88.41 L302.11,88.80 L302.33,89.22 L302.54,89.64 L302.75,90.08 L302.95,90.52 L303.15,90.96 L303.35,91.40 L303.55,91.82 L303.74,92.25 L303.94,92.69 L304.13,93.14 L304.32,93.59 L304.50,94.05 L304.68,94.52 L304.85,94.98 L305.02,95.44 L305.17,95.89 L305.31,96.34 L305.45,96.78 L305.57,97.21 L305.68,97.63 L305.79,98.05 L305.89,98.46 L305.99,98.88 L306.08,99.29 L306.15,99.69 L306.22,100.08 L306.26,100.47 L306.29,100.85 L306.30,101.22 L306.28,101.57 L306.24,101.92 L306.17,102.25 L306.08,102.57 L305.97,102.89 L305.84,103.19 L305.69,103.48 L305.52,103.77 L305.34,104.04 L305.14,104.31 L304.93,104.57 L304.70,104.82 L304.47,105.05 L304.22,105.28 L303.95,105.50 L303.66,105.69 L303.35,105.87 L303.02,106.03 L302.68,106.19 L302.33,106.33 L301.97,106.48 L301.60,106.63 L301.24,106.78 L300.88,106.94 L300.52,107.11 L300.18,107.30 L299.84,107.50 L299.49,107.70 L299.14,107.90 L298.79,108.10 L298.43,108.31 L298.08,108.52 L297.73,108.74 L297.39,108.97 L297.06,109.21 L296.74,109.46 L296.43,109.72 L296.14,109.99 L295.86,110.28 L295.59,110.58 L295.31,110.89 L295.05,111.21 L294.79,111.55 L294.55,111.89 L294.31,112.23 L294.10,112.59 L293.90,112.94 L293.73,113.30 L293.58,113.67 L293.45,114.03 L293.35,114.40 L293.27,114.78 L293.22,115.16 L293.18,115.55 L293.16,115.95 L293.16,116.34 L293.17,116.74 L293.20,117.15 L293.25,117.55 L293.30,117.95 L293.37,118.35 L293.45,118.74 L293.55,119.13 L293.69,119.53 L293.85,119.92 L294.03,120.31 L294.22,120.70 L294.42,121.10 L294.62,121.49 L294.82,121.88 L295.01,122.27 L295.19,122.67 L295.34,123.06 L295.47,123.45 L295.58,123.85 L295.70,124.25 L295.81,124.66 L295.92,125.07 L296.02,125.48 L296.10,125.89 L296.17,126.30 L296.22,126.69 L296.24,127.08 L296.24,127.46 L296.21,127.82 L296.14,128.16 L296.05,128.50 L295.92,128.83 L295.77,129.16 L295.60,129.48 L295.40,129.80 L295.18,130.10 L294.94,130.38 L294.67,130.66 L294.39,130.91 L294.10,131.14 L293.78,131.35 L293.45,131.53 L293.10,131.68 L292.71,131.80 L292.30,131.90 L291.86,131.98 L291.40,132.03 L290.93,132.07 L290.45,132.10 L289.96,132.13 L289.48,132.14 L289.00,132.16 L288.53,132.18 L288.07,132.20 L287.62,132.22 L287.17,132.23 L286.72,132.23 L286.27,132.23 L285.83,132.21 L285.38,132.20 L284.93,132.19 L284.48,132.18 L284.03,132.17 L283.58,132.17 L283.13,132.18 L282.69,132.20 L282.23,132.24 L281.77,132.29 L281.31,132.35 L280.84,132.42 L280.37,132.50 L279.91,132.58 L279.45,132.65 L279.00,132.72 L278.55,132.78 L278.12,132.83 L277.70,132.86 L277.30,132.87 L276.91,132.88 L276.53,132.88 L276.15,132.88 L275.78,132.87 L275.42,132.86 L275.07,132.83 L274.73,132.79 L274.41,132.72 L274.10,132.64 L273.80,132.52 L273.53,132.38 L273.26,132.20 L273.03,131.99 L272.82,131.74 L272.63,131.46 L272.47,131.15 L272.31,130.82 L272.17,130.48 L272.03,130.11 L271.89,129.73 L271.75,129.35 L271.60,128.95 L271.43,128.56 L271.24,128.16 L271.05,127.76 L270.84,127.34 L270.64,126.90 L270.42,126.44 L270.21,125.98 L269.98,125.51 L269.76,125.04 L269.53,124.57 L269.29,124.11 L269.05,123.65 L268.80,123.21 L268.55,122.78 L268.30,122.36 L268.05,121.95 L267.79,121.54 L267.53,121.13 L267.27,120.73 L267.00,120.34 L266.72,119.95 L266.43,119.56 L266.14,119.18 L265.83,118.81 L265.52,118.44 L265.19,118.07 L264.84,117.70 L264.47,117.34 L264.09,116.98 L263.69,116.62 L263.29,116.27 L262.88,115.92 L262.46,115.58 L262.05,115.25 L261.64,114.93 L261.24,114.62 L260.85,114.32 L260.48,114.03 L260.11,113.76 L259.73,113.50 L259.34,113.25 L258.96,113.01 L258.58,112.78 L258.21,112.56 L257.85,112.34 L257.51,112.14 L257.20,111.93 L256.91,111.73 L256.66,111.54 L256.44,111.34 L256.26,111.16 L256.11,111.01 L255.99,110.88 L255.89,110.77 L255.82,110.65 L255.77,110.54 L255.73,110.41 L255.72,110.27 L255.71,110.09 L255.72,109.88 L255.74,109.63 Z"/>
<g fill="#ff3d4e"><circle cx="255.0" cy="109.2" r="1.05"/><circle cx="256.7" cy="108.0" r="1.05"/><circle cx="255.5" cy="106.3" r="1.05"/><circle cx="257.3" cy="105.3" r="1.05"/><circle cx="256.2" cy="103.4" r="1.05"/><circle cx="258.2" cy="102.7" r="1.05"/><circle cx="257.4" cy="100.7" r="1.05"/><circle cx="259.4" cy="100.2" r="1.05"/><circle cx="258.9" cy="98.2" r="1.05"/><circle cx="260.9" cy="97.8" r="1.05"/><circle cx="260.7" cy="95.8" r="1.05"/><circle cx="262.7" cy="95.8" r="1.05"/><circle cx="263.0" cy="93.7" r="1.05"/><circle cx="264.8" cy="94.5" r="1.05"/><circle cx="266.2" cy="93.0" r="1.05"/><circle cx="267.4" cy="94.7" r="1.05"/><circle cx="269.1" cy="93.6" r="1.05"/><circle cx="270.3" cy="95.2" r="1.05"/><circle cx="271.8" cy="93.8" r="1.05"/><circle cx="273.2" cy="95.4" r="1.05"/><circle cx="274.7" cy="93.9" r="1.05"/><circle cx="276.1" cy="95.4" r="1.05"/><circle cx="277.5" cy="93.7" r="1.05"/><circle cx="279.1" cy="95.0" r="1.05"/><circle cx="280.2" cy="93.3" r="1.05"/><circle cx="282.0" cy="94.4" r="1.05"/><circle cx="282.9" cy="92.5" r="1.05"/><circle cx="284.8" cy="93.4" r="1.05"/><circle cx="285.3" cy="91.3" r="1.05"/><circle cx="287.3" cy="91.8" r="1.05"/><circle cx="287.7" cy="89.8" r="1.05"/><circle cx="289.8" cy="90.2" r="1.05"/><circle cx="290.1" cy="88.2" r="1.05"/><circle cx="292.1" cy="88.6" r="1.05"/><circle cx="292.6" cy="86.7" r="1.05"/><circle cx="294.6" cy="87.3" r="1.05"/><circle cx="295.3" cy="85.4" r="1.05"/><circle cx="297.0" cy="86.5" r="1.05"/><circle cx="298.5" cy="85.1" r="1.05"/><circle cx="299.4" cy="87.0" r="1.05"/><circle cx="301.4" cy="86.6" r="1.05"/><circle cx="301.2" cy="88.7" r="1.05"/><circle cx="303.2" cy="89.2" r="1.05"/><circle cx="302.4" cy="91.2" r="1.05"/><circle cx="304.4" cy="91.9" r="1.05"/><circle cx="303.6" cy="93.8" r="1.05"/><circle cx="305.5" cy="94.6" r="1.05"/><circle cx="304.5" cy="96.4" r="1.05"/><circle cx="306.4" cy="97.4" r="1.05"/><circle cx="305.3" cy="99.1" r="1.05"/><circle cx="307.0" cy="100.3" r="1.05"/><circle cx="305.5" cy="101.7" r="1.05"/><circle cx="306.5" cy="103.5" r="1.05"/><circle cx="304.5" cy="103.9" r="1.05"/><circle cx="304.5" cy="106.0" r="1.05"/><circle cx="302.5" cy="105.4" r="1.05"/><circle cx="301.8" cy="107.4" r="1.05"/><circle cx="299.8" cy="106.6" r="1.05"/><circle cx="299.3" cy="108.7" r="1.05"/><circle cx="297.3" cy="108.1" r="1.05"/><circle cx="297.0" cy="110.2" r="1.05"/><circle cx="295.0" cy="110.1" r="1.05"/><circle cx="295.3" cy="112.2" r="1.05"/><circle cx="293.2" cy="112.6" r="1.05"/><circle cx="294.1" cy="114.5" r="1.05"/><circle cx="292.4" cy="115.7" r="1.05"/><circle cx="294.0" cy="117.1" r="1.05"/><circle cx="292.7" cy="118.7" r="1.05"/><circle cx="294.5" cy="119.6" r="1.05"/><circle cx="293.8" cy="121.6" r="1.05"/><circle cx="295.8" cy="122.2" r="1.05"/><circle cx="294.9" cy="124.1" r="1.05"/><circle cx="296.7" cy="125.1" r="1.05"/><circle cx="295.5" cy="126.7" r="1.05"/><circle cx="296.9" cy="128.3" r="1.05"/><circle cx="295.0" cy="129.1" r="1.05"/><circle cx="295.3" cy="131.1" r="1.05"/><circle cx="293.2" cy="130.8" r="1.05"/><circle cx="292.4" cy="132.7" r="1.05"/><circle cx="290.8" cy="131.3" r="1.05"/><circle cx="289.4" cy="132.9" r="1.05"/><circle cx="287.9" cy="131.5" r="1.05"/><circle cx="286.5" cy="133.0" r="1.05"/><circle cx="285.1" cy="131.4" r="1.05"/><circle cx="283.6" cy="132.9" r="1.05"/><circle cx="282.1" cy="131.5" r="1.05"/><circle cx="280.9" cy="133.2" r="1.05"/><circle cx="279.2" cy="131.9" r="1.05"/><circle cx="278.0" cy="133.6" r="1.05"/><circle cx="276.5" cy="132.1" r="1.05"/><circle cx="274.9" cy="133.6" r="1.05"/><circle cx="274.0" cy="131.8" r="1.05"/><circle cx="272.0" cy="131.9" r="1.05"/><circle cx="272.8" cy="129.9" r="1.05"/><circle cx="270.8" cy="129.1" r="1.05"/><circle cx="271.6" cy="127.2" r="1.05"/><circle cx="269.6" cy="126.5" r="1.05"/><circle cx="270.4" cy="124.6" r="1.05"/><circle cx="268.4" cy="124.0" r="1.05"/><circle cx="269.0" cy="122.0" r="1.05"/><circle cx="266.9" cy="121.6" r="1.05"/><circle cx="267.4" cy="119.5" r="1.05"/><circle cx="265.3" cy="119.3" r="1.05"/><circle cx="265.4" cy="117.3" r="1.05"/><circle cx="263.4" cy="117.3" r="1.05"/><circle cx="263.3" cy="115.3" r="1.05"/><circle cx="261.2" cy="115.5" r="1.05"/><circle cx="261.0" cy="113.5" r="1.05"/><circle cx="258.9" cy="113.9" r="1.05"/><circle cx="258.5" cy="111.9" r="1.05"/><circle cx="256.4" cy="112.3" r="1.05"/><circle cx="256.5" cy="110.3" r="1.05"/></g><g fill="#4242f6"><circle cx="258.0" cy="109.5" r="1.15"/><circle cx="253.8" cy="107.6" r="1.15"/><circle cx="258.4" cy="106.9" r="1.15"/><circle cx="254.4" cy="104.5" r="1.15"/><circle cx="259.0" cy="104.5" r="1.15"/><circle cx="255.5" cy="101.5" r="1.15"/><circle cx="260.1" cy="102.1" r="1.15"/><circle cx="256.9" cy="98.7" r="1.15"/><circle cx="261.4" cy="99.7" r="1.15"/><circle cx="258.6" cy="96.1" r="1.15"/><circle cx="262.9" cy="97.7" r="1.15"/><circle cx="260.7" cy="93.6" r="1.15"/><circle cx="264.4" cy="96.3" r="1.15"/><circle cx="264.3" cy="91.7" r="1.15"/><circle cx="265.9" cy="96.0" r="1.15"/><circle cx="268.0" cy="91.8" r="1.15"/><circle cx="268.5" cy="96.5" r="1.15"/><circle cx="270.5" cy="92.3" r="1.15"/><circle cx="271.7" cy="96.8" r="1.15"/><circle cx="273.3" cy="92.4" r="1.15"/><circle cx="274.7" cy="96.8" r="1.15"/><circle cx="276.0" cy="92.4" r="1.15"/><circle cx="277.8" cy="96.7" r="1.15"/><circle cx="278.6" cy="92.1" r="1.15"/><circle cx="280.8" cy="96.2" r="1.15"/><circle cx="281.2" cy="91.6" r="1.15"/><circle cx="283.9" cy="95.3" r="1.15"/><circle cx="283.5" cy="90.7" r="1.15"/><circle cx="286.9" cy="93.9" r="1.15"/><circle cx="285.7" cy="89.4" r="1.15"/><circle cx="289.3" cy="92.3" r="1.15"/><circle cx="288.1" cy="87.8" r="1.15"/><circle cx="291.8" cy="90.6" r="1.15"/><circle cx="290.6" cy="86.1" r="1.15"/><circle cx="294.0" cy="89.2" r="1.15"/><circle cx="293.3" cy="84.7" r="1.15"/><circle cx="296.3" cy="88.1" r="1.15"/><circle cx="296.9" cy="83.6" r="1.15"/><circle cx="297.9" cy="88.0" r="1.15"/><circle cx="300.8" cy="84.4" r="1.15"/><circle cx="299.4" cy="88.7" r="1.15"/><circle cx="303.7" cy="87.1" r="1.15"/><circle cx="300.5" cy="90.5" r="1.15"/><circle cx="305.1" cy="89.9" r="1.15"/><circle cx="301.7" cy="93.1" r="1.15"/><circle cx="306.3" cy="92.6" r="1.15"/><circle cx="302.7" cy="95.6" r="1.15"/><circle cx="307.4" cy="95.5" r="1.15"/><circle cx="303.5" cy="98.1" r="1.15"/><circle cx="308.2" cy="98.5" r="1.15"/><circle cx="304.1" cy="100.6" r="1.15"/><circle cx="308.4" cy="102.1" r="1.15"/><circle cx="303.8" cy="102.3" r="1.15"/><circle cx="306.8" cy="105.8" r="1.15"/><circle cx="302.7" cy="103.7" r="1.15"/><circle cx="303.7" cy="108.1" r="1.15"/><circle cx="300.6" cy="104.6" r="1.15"/><circle cx="301.2" cy="109.2" r="1.15"/><circle cx="297.8" cy="106.1" r="1.15"/><circle cx="298.9" cy="110.6" r="1.15"/><circle cx="295.1" cy="107.9" r="1.15"/><circle cx="297.2" cy="112.1" r="1.15"/><circle cx="292.9" cy="110.5" r="1.15"/><circle cx="295.9" cy="113.9" r="1.15"/><circle cx="291.3" cy="113.7" r="1.15"/><circle cx="295.4" cy="115.8" r="1.15"/><circle cx="291.0" cy="117.4" r="1.15"/><circle cx="295.6" cy="118.2" r="1.15"/><circle cx="291.9" cy="120.9" r="1.15"/><circle cx="296.5" cy="120.2" r="1.15"/><circle cx="293.1" cy="123.4" r="1.15"/><circle cx="297.7" cy="123.3" r="1.15"/><circle cx="293.8" cy="125.8" r="1.15"/><circle cx="298.4" cy="126.6" r="1.15"/><circle cx="294.0" cy="127.7" r="1.15"/><circle cx="297.5" cy="130.5" r="1.15"/><circle cx="293.2" cy="129.1" r="1.15"/><circle cx="294.7" cy="133.4" r="1.15"/><circle cx="291.9" cy="129.7" r="1.15"/><circle cx="290.9" cy="134.3" r="1.15"/><circle cx="289.3" cy="129.9" r="1.15"/><circle cx="288.0" cy="134.4" r="1.15"/><circle cx="286.5" cy="130.0" r="1.15"/><circle cx="285.0" cy="134.4" r="1.15"/><circle cx="283.6" cy="130.0" r="1.15"/><circle cx="282.4" cy="134.4" r="1.15"/><circle cx="280.4" cy="130.3" r="1.15"/><circle cx="279.7" cy="134.8" r="1.15"/><circle cx="277.8" cy="130.7" r="1.15"/><circle cx="276.5" cy="135.1" r="1.15"/><circle cx="275.3" cy="130.6" r="1.15"/><circle cx="272.7" cy="134.4" r="1.15"/><circle cx="274.5" cy="130.2" r="1.15"/><circle cx="270.0" cy="130.9" r="1.15"/><circle cx="273.6" cy="128.0" r="1.15"/><circle cx="268.9" cy="128.5" r="1.15"/><circle cx="272.3" cy="125.3" r="1.15"/><circle cx="267.7" cy="125.9" r="1.15"/><circle cx="271.0" cy="122.6" r="1.15"/><circle cx="266.4" cy="123.5" r="1.15"/><circle cx="269.4" cy="120.0" r="1.15"/><circle cx="265.0" cy="121.3" r="1.15"/><circle cx="267.6" cy="117.5" r="1.15"/><circle cx="263.3" cy="119.3" r="1.15"/><circle cx="265.3" cy="115.1" r="1.15"/><circle cx="261.4" cy="117.5" r="1.15"/><circle cx="263.0" cy="113.2" r="1.15"/><circle cx="259.2" cy="115.8" r="1.15"/><circle cx="260.5" cy="111.4" r="1.15"/><circle cx="257.0" cy="114.4" r="1.15"/><circle cx="258.2" cy="110.0" r="1.15"/><circle cx="254.0" cy="111.9" r="1.15"/></g>
<line x1="478.1" y1="369.1" x2="523.8" y2="351.1" stroke="#7fa6dd" stroke-width="0.9"/>
<line x1="95.5" y1="425.6" x2="526.7" y2="425.6" stroke="#f01818" stroke-width="2.2" stroke-dasharray="9.9 6.49" stroke-dashoffset="1"/>
<circle cx="112.9" cy="75.7" r="5.55" fill="none" stroke="#000" stroke-width="2.5"/>
<circle cx="133.9" cy="195.7" r="5.55" fill="none" stroke="#000" stroke-width="2.5"/>
<circle cx="164.25" cy="255.25" r="5.55" fill="none" stroke="#000" stroke-width="2.5"/>
<circle cx="202.9" cy="290.9" r="5.55" fill="none" stroke="#000" stroke-width="2.5"/>
<circle cx="250.5" cy="313.3" r="5.55" fill="none" stroke="#000" stroke-width="2.5"/>
<circle cx="306.7" cy="331.7" r="5.55" fill="none" stroke="#000" stroke-width="2.5"/>
<circle cx="371.1" cy="344.1" r="5.55" fill="none" stroke="#000" stroke-width="2.5"/>
<circle cx="444.5" cy="353.7" r="5.55" fill="none" stroke="#000" stroke-width="2.5"/>
<path d="M107.53,15.39 L108.07,24.02 L108.61,32.12 L109.14,39.76 L109.68,46.98 L110.21,53.80 L110.75,60.28 L111.29,66.43 L111.82,72.28 L112.36,77.86 L112.89,83.19 L113.43,88.28 L113.97,93.16 L114.50,97.83 L115.04,102.31 L115.57,106.62 L116.11,110.76 L116.65,114.75 L117.18,118.59 L117.72,122.30 L118.25,125.87 L118.79,129.33 L119.33,132.67 L119.86,135.90 L120.40,139.03 L120.93,142.06 L121.47,145.00 L122.01,147.86 L122.54,150.63 L123.08,153.32 L123.61,155.93 L124.15,158.47 L124.69,160.94 L125.22,163.35 L125.76,165.69 L126.29,167.98 L126.83,170.20 L127.36,172.37 L127.90,174.49 L128.44,176.56 L128.97,178.57 L129.51,180.55 L130.04,182.47 L130.58,184.35 L131.12,186.19 L131.65,187.99 L132.19,189.75 L132.72,191.48 L133.26,193.16 L133.80,194.82 L134.33,196.43 L134.87,198.02 L135.40,199.57 L135.94,201.10 L136.48,202.59 L137.01,204.06 L137.55,205.50 L138.08,206.91 L138.62,208.29 L141.88,216.21 L145.14,223.34 L148.40,229.81 L151.66,235.72 L154.93,241.14 L158.19,246.14 L161.45,250.77 L164.71,255.07 L167.97,259.08 L171.23,262.83 L174.49,266.35 L177.75,269.66 L181.02,272.78 L184.28,275.73 L187.54,278.53 L190.80,281.18 L194.06,283.69 L197.32,286.09 L200.58,288.38 L203.84,290.56 L207.10,292.65 L210.37,294.65 L213.63,296.57 L216.89,298.41 L220.15,300.18 L223.41,301.88 L226.67,303.52 L229.93,305.09 L233.19,306.62 L236.46,308.09 L239.72,309.51 L242.98,310.88 L246.24,312.21 L249.50,313.49 L252.76,314.74 L256.02,315.95 L259.28,317.12 L262.54,318.26 L265.81,319.37 L269.07,320.44 L272.33,321.49 L275.59,322.50 L278.85,323.49 L282.11,324.46 L285.37,325.40 L288.63,326.31 L291.90,327.20 L295.16,328.07 L298.42,328.92 L301.68,329.75 L304.94,330.57 L308.20,331.36 L311.46,332.13 L314.72,332.89 L317.98,333.63 L321.25,334.35 L324.51,335.06 L327.77,335.76 L331.03,336.44 L334.29,337.10 L337.55,337.75 L340.81,338.39 L344.07,339.02 L347.34,339.63 L350.60,340.24 L353.86,340.83 L357.12,341.41 L360.38,341.98 L363.64,342.54 L366.90,343.09 L370.16,343.63 L373.42,344.16 L376.69,344.68 L379.95,345.19 L383.21,345.70 L386.47,346.19 L389.73,346.68 L392.99,347.16 L396.25,347.63 L399.51,348.09 L402.78,348.55 L406.04,349.00 L409.30,349.44 L412.56,349.87 L415.82,350.30 L419.08,350.72 L422.34,351.14 L425.60,351.55 L428.86,351.95 L432.13,352.35 L435.39,352.74 L438.65,353.13 L441.91,353.51 L445.17,353.89 L448.43,354.26 L451.69,354.62 L454.95,354.98 L458.22,355.34 L461.48,355.69 L464.74,356.04 L468.00,356.38 L471.26,356.72 L474.52,357.05 L477.78,357.38 L481.04,357.70 L484.30,358.02 L487.57,358.34 L490.83,358.65 L494.09,358.96 L497.35,359.27 L500.61,359.57 L503.87,359.87 L507.13,360.16 L510.39,360.45 L513.66,360.74 L516.92,361.02 L520.18,361.30 L523.44,361.58 L526.70,361.86" fill="none" stroke="#ff0000" stroke-width="2.15"/>
<path d="M229.05,105.05 L237.65,113.15 M229.05,113.15 L237.65,105.05" stroke="#1212fa" stroke-width="2.4" stroke-linecap="round" fill="none"/>
<path d="M285.20,199.65 L293.80,207.75 M285.20,207.75 L293.80,199.65" stroke="#1212fa" stroke-width="2.4" stroke-linecap="round" fill="none"/>
<path d="M371.45,290.15 L380.05,298.25 M371.45,298.25 L380.05,290.15" stroke="#1212fa" stroke-width="2.4" stroke-linecap="round" fill="none"/>
<path d="M401.70,315.85 L410.30,323.95 M401.70,323.95 L410.30,315.85" stroke="#1212fa" stroke-width="2.4" stroke-linecap="round" fill="none"/>
<path d="M423.10,330.15 L431.70,338.25 M423.10,338.25 L431.70,330.15" stroke="#1212fa" stroke-width="2.4" stroke-linecap="round" fill="none"/>
<path d="M436.10,339.25 L444.70,347.35 M436.10,347.35 L444.70,339.25" stroke="#1212fa" stroke-width="2.4" stroke-linecap="round" fill="none"/>
<path d="M440.20,349.65 L448.80,357.75 M440.20,357.75 L448.80,349.65" stroke="#1212fa" stroke-width="2.4" stroke-linecap="round" fill="none"/>
<path d="M193.80,13.87 L195.91,20.01 L198.01,26.01 L200.12,31.88 L202.23,37.62 L204.33,43.23 L206.44,48.73 L208.55,54.11 L210.65,59.38 L212.76,64.54 L214.87,69.60 L216.97,74.56 L219.08,79.43 L221.19,84.20 L223.29,88.88 L225.40,93.48 L227.51,97.99 L229.61,102.41 L231.72,106.76 L233.83,111.04 L235.93,115.23 L238.04,119.36 L240.15,123.42 L242.25,127.40 L244.36,131.33 L246.47,135.18 L248.57,138.98 L250.68,142.71 L252.79,146.39 L254.89,150.01 L257.00,153.57 L259.11,157.08 L261.22,160.54 L263.32,163.95 L265.43,167.30 L267.54,170.61 L269.64,173.87 L271.75,177.08 L273.86,180.25 L275.96,183.38 L278.07,186.46 L280.18,189.50 L282.28,192.50 L284.39,195.46 L286.50,198.38 L288.60,201.26 L290.71,204.11 L292.82,206.92 L294.92,209.70 L297.03,212.44 L299.14,215.14 L301.24,217.82 L303.35,220.46 L305.46,223.07 L307.56,225.64 L309.67,228.19 L311.78,230.71 L313.88,233.20 L315.99,235.66 L318.10,238.09 L320.20,240.50 L322.31,242.88 L324.42,245.23 L326.52,247.56 L328.63,249.86 L330.74,252.14 L332.84,254.40 L334.95,256.63 L337.06,258.83 L339.16,261.02 L341.27,263.18 L343.38,265.32 L345.48,267.44 L347.59,269.54 L349.70,271.62 L351.80,273.67 L353.91,275.71 L356.02,277.73 L358.12,279.72 L360.23,281.70 L362.34,283.66 L364.44,285.61 L366.55,287.53 L368.66,289.44 L370.76,291.33 L372.87,293.20 L374.98,295.06 L377.08,296.89 L379.19,298.72 L381.30,300.53 L383.41,302.32 L385.51,304.09 L387.62,305.85 L389.73,307.60 L391.83,309.33 L393.94,311.05 L396.05,312.75 L398.15,314.44 L400.26,316.12 L402.37,317.78 L404.47,319.43 L406.58,321.06 L408.69,322.68 L410.79,324.29 L412.90,325.89 L415.01,327.47 L417.11,329.05 L419.22,330.61 L421.33,332.16 L423.43,333.69 L425.54,335.22 L427.65,336.73 L429.75,338.24 L431.86,339.73 L433.97,341.21 L436.07,342.68 L438.18,344.14 L440.29,345.59 L442.39,347.03 L444.50,348.46" fill="none" stroke="#000" stroke-width="1.7"/>
<rect x="95.5" y="14.5" width="431.20" height="437.00" fill="none" stroke="#383838" stroke-width="1.4"/>
<path d="M95.50,451.49999999999994 v-5 M95.50,14.5 v5 M131.43,451.49999999999994 v-2.6 M131.43,14.5 v2.6 M167.37,451.49999999999994 v-5 M167.37,14.5 v5 M203.30,451.49999999999994 v-2.6 M203.30,14.5 v2.6 M239.23,451.49999999999994 v-5 M239.23,14.5 v5 M275.17,451.49999999999994 v-2.6 M275.17,14.5 v2.6 M311.10,451.49999999999994 v-5 M311.10,14.5 v5 M347.03,451.49999999999994 v-2.6 M347.03,14.5 v2.6 M382.97,451.49999999999994 v-5 M382.97,14.5 v5 M418.90,451.49999999999994 v-2.6 M418.90,14.5 v2.6 M454.83,451.49999999999994 v-5 M454.83,14.5 v5 M490.77,451.49999999999994 v-2.6 M490.77,14.5 v2.6 M526.70,451.49999999999994 v-5 M526.70,14.5 v5 M95.5,14.50 h5 M526.70,14.50 h-5 M95.5,63.06 h2.6 M526.70,63.06 h-2.6 M95.5,111.61 h5 M526.70,111.61 h-5 M95.5,160.17 h2.6 M526.70,160.17 h-2.6 M95.5,208.72 h5 M526.70,208.72 h-5 M95.5,257.28 h2.6 M526.70,257.28 h-2.6 M95.5,305.83 h5 M526.70,305.83 h-5 M95.5,354.39 h2.6 M526.70,354.39 h-2.6 M95.5,402.94 h5 M526.70,402.94 h-5 M95.5,451.50 h2.6 M526.70,451.50 h-2.6" stroke="#383838" stroke-width="1.2" fill="none"/>
<g font-family="'Liberation Serif', serif" font-size="24.2" fill="#000" stroke="#000" stroke-width="0.3">
<text x="95.2" y="473.9" text-anchor="middle" textLength="11.4" lengthAdjust="spacingAndGlyphs">0</text>
<text x="167.1" y="473.9" text-anchor="middle" textLength="22.7" lengthAdjust="spacingAndGlyphs">50</text>
<text x="238.9" y="473.9" text-anchor="middle" textLength="34.1" lengthAdjust="spacingAndGlyphs">100</text>
<text x="310.8" y="473.9" text-anchor="middle" textLength="34.1" lengthAdjust="spacingAndGlyphs">150</text>
<text x="382.7" y="473.9" text-anchor="middle" textLength="34.1" lengthAdjust="spacingAndGlyphs">200</text>
<text x="454.5" y="473.9" text-anchor="middle" textLength="34.1" lengthAdjust="spacingAndGlyphs">250</text>
<text x="526.4" y="473.9" text-anchor="middle" textLength="34.1" lengthAdjust="spacingAndGlyphs">300</text>
<text x="90.2" y="22.3" text-anchor="end" textLength="41.7" lengthAdjust="spacingAndGlyphs">-300</text>
<text x="90.2" y="119.4" text-anchor="end" textLength="41.7" lengthAdjust="spacingAndGlyphs">-310</text>
<text x="90.2" y="216.5" text-anchor="end" textLength="41.7" lengthAdjust="spacingAndGlyphs">-320</text>
<text x="90.2" y="313.6" text-anchor="end" textLength="41.7" lengthAdjust="spacingAndGlyphs">-330</text>
<text x="90.2" y="410.7" text-anchor="end" textLength="41.7" lengthAdjust="spacingAndGlyphs">-340</text>
</g>
<g font-family="'Liberation Sans', sans-serif" font-style="italic" font-size="26" fill="#000" stroke="#000" stroke-width="0.5">
<text y="499.2"><tspan x="235.2">#</tspan> <tspan x="257.6" textLength="56.2" lengthAdjust="spacingAndGlyphs">MoS</tspan><tspan x="313.2" font-size="18.5" dy="10.6">2</tspan> <tspan x="331.7" dy="-10.6" letter-spacing="0.17">units</tspan></text>
<text transform="translate(32.4,421) rotate(-90) scale(1,1.05)" y="0"><tspan x="0">total</tspan> <tspan x="58.2">energy</tspan> <tspan x="145.6" letter-spacing="0.95">per</tspan> <tspan x="190.4" textLength="54.2" lengthAdjust="spacingAndGlyphs">MoS</tspan><tspan x="246.4" font-size="18.5" dy="10.6">2</tspan> <tspan x="263.9" dy="-10.6">(kcal</tspan><tspan x="321.6" letter-spacing="0.57">/mol)</tspan></text>
</g>
</svg></body></html>
